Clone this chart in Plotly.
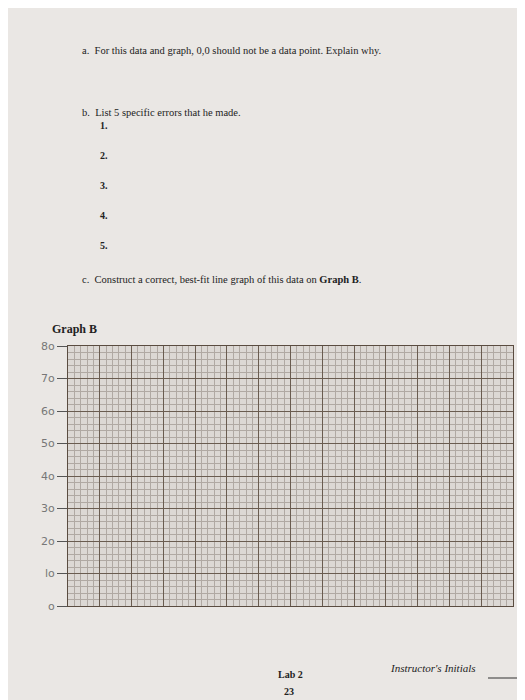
import plotly.graph_objects as go

# handwritten y labels on the graph paper
y_ticks = [0, 10, 20, 30, 40, 50, 60, 70, 80]
y_labels = ['o', 'lo', '2o', '3o', '4o', '5o', '6o', '7o', '8o']
n_cols = 14

# worksheet text: (text, x px, y px, size, bold)
sheet_text = [
    ('a.  For this data and graph, 0,0 should not be a data point. Explain why.', 72, 42, 10.5, False),
    ('b.  List 5 specific errors that he made.', 72, 104, 10.5, False),
    ('1.', 90, 118, 10, True),
    ('2.', 90, 148, 10, True),
    ('3.', 90, 177, 10, True),
    ('4.', 90, 207, 10, True),
    ('5.', 90, 237, 10, True),
    ('c.  Construct a correct, best-fit line graph of this data on <b>Graph B</b>.', 72, 271, 10.5, False),
    ('<b>Graph B</b>', 42, 321, 12, False),
    ('<i>Instructor\'s Initials</i>', 380, 660, 11, False),
    ('<b>Lab 2</b>', 268, 666, 10, False),
    ('<b>23</b>', 274, 683, 10, False),
]

L, R, T, B = 60, 505, 338, 598

def px(x):
    return (x - L) / (R - L)

def py(y):
    return (B - y) / (B - T)

fig = go.Figure()
fig.add_trace(go.Scatter(x=[0, n_cols], y=[0, 80], mode='markers', marker=dict(opacity=0), showlegend=False, hoverinfo='skip'))

for text, x, y, size, bold in sheet_text:
    fig.add_annotation(text=('<b>%s</b>' % text) if bold else text, x=px(x), y=py(y), xref='paper', yref='paper',
                       xanchor='left', yanchor='middle', showarrow=False,
                       font=dict(family='Liberation Serif', size=size, color='#222'))

fig.add_shape(type='line', xref='paper', yref='paper', x0=px(480), x1=px(525), y0=py(670), y1=py(670), line=dict(color='#333', width=1))

fig.update_xaxes(range=[0, n_cols], dtick=1, showticklabels=False, showgrid=True, gridcolor='#6a5c50', gridwidth=1,
                 minor=dict(dtick=0.2, showgrid=True, gridcolor='#b0a9a3', gridwidth=0.5),
                 zeroline=False, showline=True, linecolor='#5a4c40', mirror=True)
fig.update_yaxes(range=[0, 80], tickvals=y_ticks, ticktext=y_labels, ticks='outside', ticklen=10, tickcolor='#555',
                 tickfont=dict(family='DejaVu Sans', size=11, color='#777'),
                 showgrid=True, gridcolor='#6a5c50', gridwidth=1,
                 minor=dict(dtick=2, showgrid=True, gridcolor='#b0a9a3', gridwidth=0.5),
                 zeroline=False, showline=True, linecolor='#5a4c40', mirror=True)

fig.update_layout(width=525, height=700, margin=dict(l=L, r=525 - R, t=T, b=700 - B),
                  paper_bgcolor='#eae7e4', plot_bgcolor='#dcd8d4', showlegend=False)

fig.write_html("out.html")
